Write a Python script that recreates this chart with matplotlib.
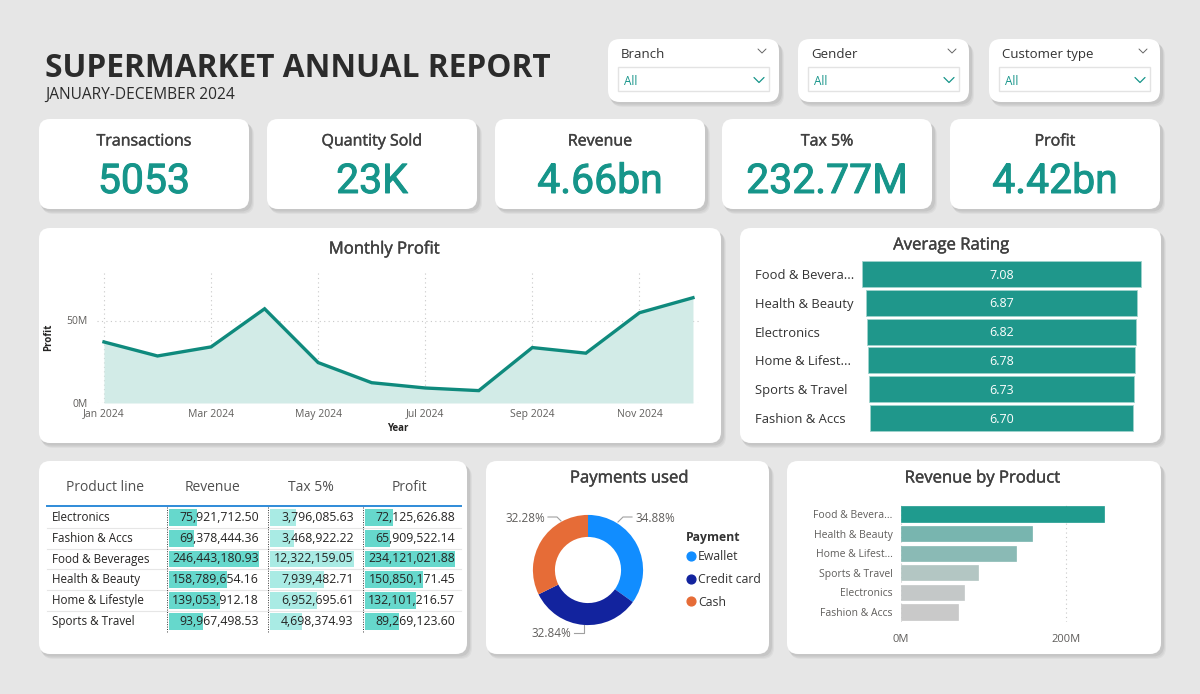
import numpy as np
import matplotlib.pyplot as plt
import matplotlib.patheffects as pe
from matplotlib.patches import FancyBboxPatch

plt.rcParams["font.family"] = ["Open Sans", "DejaVu Sans"]

# ---------------------------------------------------------------------------
# Data
# ---------------------------------------------------------------------------
filters = ["Branch", "Gender", "Customer type"]

kpi_labels = ["Transactions", "Quantity Sold", "Revenue", "Tax 5%", "Profit"]
kpi_values = ["5053", "23K", "4.66bn", "232.77M", "4.42bn"]

months = ["Jan 2024", "Feb 2024", "Mar 2024", "Apr 2024", "May 2024", "Jun 2024",
          "Jul 2024", "Aug 2024", "Sep 2024", "Oct 2024", "Nov 2024", "Dec 2024"]
monthly_profit_m = [37.0, 28.5, 34.0, 57.1, 24.5, 12.3, 9.1, 7.5, 33.6, 30.2, 54.7, 63.8]

rating_cats = ["Food & Bevera...", "Health & Beauty", "Electronics",
               "Home & Lifest...", "Sports & Travel", "Fashion & Accs"]
rating_vals = [7.08, 6.87, 6.82, 6.78, 6.73, 6.70]

product_lines = ["Electronics", "Fashion & Accs", "Food & Beverages",
                 "Health & Beauty", "Home & Lifestyle", "Sports & Travel"]
revenue = [75921712.50, 69378444.36, 246443180.93, 158789654.16, 139053912.18, 93967498.53]
tax = [3796085.63, 3468922.22, 12322159.05, 7939482.71, 6952695.61, 4698374.93]
profit = [72125626.88, 65909522.14, 234121021.88, 150850171.45, 132101216.57, 89269123.60]

payment_types = ["Ewallet", "Credit card", "Cash"]
payment_share = [34.88, 32.84, 32.28]

rev_cats = ["Food & Bevera...", "Health & Beauty", "Home & Lifest...",
            "Sports & Travel", "Electronics", "Fashion & Accs"]
rev_vals_m = [246.44, 158.79, 139.05, 93.97, 75.92, 69.38]

# ---------------------------------------------------------------------------
# Styles
# ---------------------------------------------------------------------------
TEAL = "#16958a"
TXT = "#404040"
GREY = "#605e5c"
pay_colors = ["#118dff", "#12239e", "#e66c37"]
rev_colors = ["#1f9b8e", "#78b5af", "#8abab5", "#b3c6c3", "#c4c8c8", "#c9c9c9"]

W, H = 1200, 694
fig = plt.figure(figsize=(12, 6.94), dpi=100)
fig.patch.set_facecolor("#e6e6e6")

bg = fig.add_axes([0, 0, 1, 1])
bg.set_xlim(0, W)
bg.set_ylim(H, 0)
bg.axis("off")


def axes_px(x0, y0, x1, y1):
    ax = fig.add_axes([x0 / W, 1 - y1 / H, (x1 - x0) / W, (y1 - y0) / H])
    ax.set_facecolor("none")
    return ax


def card(x0, y0, x1, y1, r=11):
    w, h = x1 - x0, y1 - y0
    for dx, dy, a in [(4, 5, 0.035), (3, 4, 0.045), (2, 2.5, 0.06)]:
        bg.add_patch(FancyBboxPatch((x0 - 1 + dx, y0 + dy), w + 2, h,
                                    boxstyle=f"round,pad=0,rounding_size={r}",
                                    fc="black", ec="none", alpha=a))
    bg.add_patch(FancyBboxPatch((x0, y0), w, h,
                                boxstyle=f"round,pad=0,rounding_size={r}",
                                fc="white", ec="none"))


def chevron(x, y, s, color, lw=0.9):
    bg.plot([x - s, x, x + s], [y - s / 2, y + s / 2, y - s / 2], color=color, lw=lw,
            solid_capstyle="round")


# ---------------------------------------------------------------------------
# Header
# ---------------------------------------------------------------------------
bg.text(45, 68.5, "SUPERMARKET ANNUAL REPORT", fontsize=22.8, fontweight="bold",
        color="#2b2b2b", va="center", ha="left")
bg.text(45, 94.5, "JANUARY-DECEMBER 2024", fontsize=11.2, color="#2b2b2b",
        va="center", ha="left")

# slicers
for name, x0 in zip(filters, [608, 798, 989]):
    x1 = x0 + 171
    card(x0, 39, x1, 102, r=12)
    bg.text(x0 + 13, 54, name, fontsize=9.5, color="#333333", va="center")
    chevron(x1 - 17, 51, 4, "#666666", lw=0.7)
    bg.add_patch(plt.Rectangle((x0 + 10, 67), x1 - x0 - 20, 24, fc="white",
                               ec="#e3e3e3", lw=1))
    bg.text(x0 + 16, 81, "All", fontsize=8.5, color=TEAL, va="center")
    chevron(x1 - 20, 80, 5, TEAL, lw=0.9)

# KPI cards
for lab, val, x0 in zip(kpi_labels, kpi_values, [39, 267, 495, 722, 950]):
    card(x0, 119, x0 + 210, 209)
    bg.text(x0 + 105, 141.5, lab, fontsize=11.5, color=TXT, ha="center", va="center",
            path_effects=[pe.withStroke(linewidth=0.3, foreground=TXT)])
    bg.text(x0 + 105, 181.5, val, fontsize=29.5, color=TEAL,
            ha="center", va="center", family=["Roboto", "DejaVu Sans"],
            path_effects=[pe.withStroke(linewidth=0.7, foreground=TEAL)])

# ---------------------------------------------------------------------------
# Monthly profit
# ---------------------------------------------------------------------------
card(39, 228, 721, 443)
bg.text(384, 249.5, "Monthly Profit", fontsize=12, color=TXT, ha="center", va="center",
        path_effects=[pe.withStroke(linewidth=0.3, foreground=TXT)])

ax = axes_px(97, 271, 701, 403)
x = np.arange(len(months))
yv = np.array(monthly_profit_m) * 1e6
ax.fill_between(x, yv, color="#d2ebe7", lw=0)
ax.plot(x, yv, color="#0f8a7d", lw=2.4, solid_joinstyle="miter")
ax.set_xlim(-0.13, 11.15)
ax.set_ylim(0, 80e6)
ax.set_xticks(x[::2])
ax.set_xticklabels(months[::2])
ax.set_yticks([0, 50e6])
ax.set_yticklabels(["0M", "50M"])
ax.tick_params(length=0, labelsize=7.5, labelcolor=GREY)
ax.tick_params(axis="x", pad=4)
ax.tick_params(axis="y", pad=7)
ax.grid(True, ls=(0, (1, 3)), color="#c8c8c8", lw=0.8)
ax.set_axisbelow(True)
for s in ax.spines.values():
    s.set_visible(False)
ax.set_ylabel("Profit", fontsize=7, fontweight="bold", color="#252423")
ax.set_xlabel("Year", fontsize=7, fontweight="bold", color="#252423")
ax.yaxis.set_label_coords(-0.071, 0.5)
ax.xaxis.set_label_coords(0.498, -0.155)

# ---------------------------------------------------------------------------
# Average rating (funnel)
# ---------------------------------------------------------------------------
card(740, 228, 1161, 443)
bg.text(951, 245.5, "Average Rating", fontsize=12, color=TXT, ha="center", va="center",
        path_effects=[pe.withStroke(linewidth=0.3, foreground=TXT)])

ax = axes_px(855, 259.6, 1148, 432.4)
rv = np.array(rating_vals)
ypos = np.arange(len(rv))
ax.barh(ypos, rv, left=-rv / 2, height=0.9, color="#1f978b", edgecolor="#9fd3cd", lw=0.6)
for i, v in enumerate(rv):
    ax.text(0, i + 0.04, f"{v:.2f}", color="white", fontsize=9, ha="center", va="center")
ax.set_xlim(-3.72, 3.72)
ax.set_ylim(5.5, -0.5)
ax.set_yticks(ypos)
ax.set_yticklabels(rating_cats)
ax.tick_params(axis="y", length=0, pad=72, labelsize=9.4, labelcolor="#333333")
for t in ax.get_yticklabels():
    t.set_ha("left")
ax.set_xticks([])
for s in ax.spines.values():
    s.set_visible(False)

# ---------------------------------------------------------------------------
# Table
# ---------------------------------------------------------------------------
card(39, 461, 467, 654)
for lab, cx in zip(["Product line", "Revenue", "Tax 5%", "Profit"], [105, 213, 311, 409]):
    bg.text(cx, 487, lab, fontsize=10, color="#505050", ha="center", va="center")
bg.plot([47, 461], [505.5, 505.5], color="#2f8bd8", lw=1.4)

row_top, row_h = 507, 20.8
n = len(product_lines)
for i, name in enumerate(product_lines):
    yc = row_top + row_h * (i + 0.5)
    bg.text(52, yc, name, fontsize=8.4, color="#252423", va="center", ha="left")
    if i < n - 1:
        yl = row_top + row_h * (i + 1)
        bg.plot([47, 461], [yl, yl], color="#e6e6e6", lw=0.8)
for xs in [167, 268, 363]:
    bg.plot([xs, xs], [row_top, row_top + row_h * n], color="#333333", lw=0.7,
            ls=(0, (1, 1.5)))

for vals, (x0, x1), col in [(revenue, (168.7, 259), "#66d8cc"),
                            (tax, (270, 353.7), "#a9ebe4"),
                            (profit, (364.7, 455.3), "#66d8cc")]:
    col_ax = axes_px(x0, row_top, x1, row_top + row_h * n)
    col_ax.barh(np.arange(n), vals, height=0.8, color=col, lw=0)
    col_ax.set_xlim(0, max(vals))
    col_ax.set_ylim(n - 0.5, -0.5)
    col_ax.axis("off")
    for i, v in enumerate(vals):
        col_ax.text(max(vals), i, f"{v:,.2f}", fontsize=8.8, color="#252423",
                    ha="right", va="center", clip_on=False)

# ---------------------------------------------------------------------------
# Payments donut
# ---------------------------------------------------------------------------
card(486, 461, 769, 654)
bg.text(629, 478.5, "Payments used", fontsize=12, color=TXT, ha="center", va="center",
        path_effects=[pe.withStroke(linewidth=0.3, foreground=TXT)])

ax = axes_px(523, 505, 653, 635)
ax.pie(payment_share, colors=pay_colors, startangle=90, counterclock=False,
       radius=1, wedgeprops=dict(width=0.4, edgecolor="none"))
ax.set_xlim(-1.18, 1.18)
ax.set_ylim(-1.18, 1.18)
ax.set_aspect("equal")
ax.axis("off")

lead_col = "#a0a0a0"
# Ewallet
bg.plot([618, 623, 632], [522, 517, 517], color=lead_col, lw=0.8)
bg.text(635, 518, f"{payment_share[0]:.2f}%", fontsize=8.5, color=GREY, va="center")
# Credit card
bg.plot([584, 584, 574], [625, 632.5, 632.5], color=lead_col, lw=0.8)
bg.text(571, 633.5, f"{payment_share[1]:.2f}%", fontsize=8.5, color=GREY, va="center",
        ha="right")
# Cash
bg.plot([561, 557, 548], [521, 517, 517], color=lead_col, lw=0.8)
bg.text(545, 518, f"{payment_share[2]:.2f}%", fontsize=8.5, color=GREY, va="center",
        ha="right")

bg.text(686, 538, "Payment", fontsize=8.8, fontweight="bold", color="#333333", va="center")
for i, (p, c) in enumerate(zip(payment_types, pay_colors)):
    yy = 556 + i * 22.5
    bg.scatter([691], [yy], s=40, color=c, zorder=3)
    bg.text(698, yy + 1, p, fontsize=8.8, color="#333333", va="center")

# ---------------------------------------------------------------------------
# Revenue by product
# ---------------------------------------------------------------------------
card(787, 461, 1161, 654)
bg.text(982, 478.5, "Revenue by Product", fontsize=12, color=TXT, ha="center", va="center",
        path_effects=[pe.withStroke(linewidth=0.3, foreground=TXT)])

ax = axes_px(901, 504.2, 1145, 621.8)
ax.barh(np.arange(len(rev_vals_m)), np.array(rev_vals_m) * 1e6, height=0.77,
        color=rev_colors, edgecolor=rev_colors, lw=0.5)
ax.set_xlim(0, 296e6)
ax.set_ylim(5.5, -0.5)
ax.set_yticks(np.arange(len(rev_cats)))
ax.set_yticklabels(rev_cats)
ax.set_xticks([0, 200e6])
ax.set_xticklabels(["0M", "200M"])
ax.tick_params(length=0, labelcolor=GREY)
ax.tick_params(axis="y", pad=6, labelsize=7.5)
ax.tick_params(axis="x", pad=9, labelsize=8)
ax.grid(True, axis="x", ls=(0, (1, 3)), color="#c8c8c8", lw=0.8)
ax.set_axisbelow(True)
for s in ax.spines.values():
    s.set_visible(False)

fig.savefig("out.png", dpi=100, facecolor=fig.get_facecolor())
